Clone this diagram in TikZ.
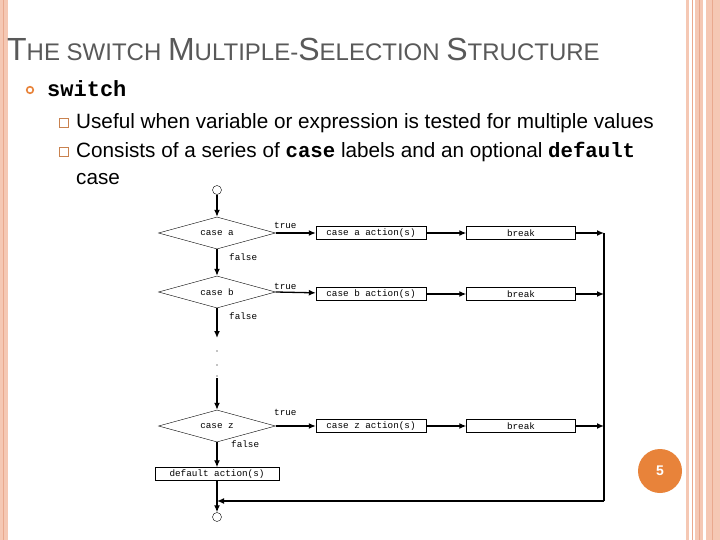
\documentclass[tikz,border=0pt]{standalone}
\usepackage{fontspec}
\setmainfont{Liberation Sans}
\newfontfamily\mono{Liberation Mono}
\usetikzlibrary{shapes.geometric,arrows.meta}
\definecolor{ttl}{HTML}{595959}
\definecolor{orng}{HTML}{E8833A}
\definecolor{pinkA}{HTML}{F5C8B4}
\definecolor{pinkB}{HTML}{E9A98E}
\tikzset{
 fc/.style={font=\mono\fontsize{9.3}{10}\selectfont},
 dec/.style={diamond,draw,thin,fc,aspect=3.7,minimum width=117pt,minimum height=32pt,inner sep=0pt},
 act/.style={draw,thin,fc,minimum width=110pt,minimum height=13pt,inner sep=0pt},
 brk/.style={draw,thin,fc,minimum width=109pt,minimum height=13pt,inner sep=0pt},
 flow/.style={line width=1.3pt,-{Latex[length=7pt,width=6pt]}},
 lbl/.style={fc,inner sep=1pt},
 term/.style={circle,draw,thin,minimum size=9pt,inner sep=0pt},
}
\begin{document}
\begin{tikzpicture}[x=1pt,y=-1pt]
\useasboundingbox (0,0) rectangle (720,540);
\fill[white] (0,0) rectangle (720,540);
% side decorations
\fill[pinkA] (0,0) rectangle (8,540);
\fill[pinkA] (686,0) rectangle (720,540);
\fill[white] (689,0) rectangle (695,540);
\fill[white] (703,0) rectangle (706,540);
\draw[pinkB] (3,0)--(3,540) (692,0)--(692,540) (699,0)--(699,540) (712,0)--(712,540);
% title
\node[anchor=base west,text=ttl,inner sep=0] (title) at (7,61)
 {\fontsize{32}{33}\selectfont T\fontsize{24}{25}\selectfont HE SWITCH \fontsize{32}{33}\selectfont M\fontsize{24}{25}\selectfont ULTIPLE-\fontsize{32}{33}\selectfont S\fontsize{24}{25}\selectfont ELECTION \fontsize{32}{33}\selectfont S\fontsize{24}{25}\selectfont TRUCTURE};
\draw[orng,line width=1.6pt] (30,90) circle (3.3);
\node[anchor=base west,inner sep=0] (sw) at (47,97) {\mono\bfseries\fontsize{22}{24}\selectfont switch};
\draw[orng!70!gray,thin] (59,118) rectangle (68,127);
\node[anchor=base west,inner sep=0] (l1) at (76,129) {\fontsize{20.7}{22}\selectfont Useful when variable or expression is tested for multiple values};
\draw[orng!70!gray,thin] (59,147) rectangle (68,156);
\node[anchor=base west,inner sep=0] (l2) at (76,158) {\fontsize{20.7}{22}\selectfont Consists of a series of {\mono\bfseries case} labels and an optional {\mono\bfseries default}};
\node[anchor=base west,inner sep=0] (l3) at (76,185) {\fontsize{20.7}{22}\selectfont case};
% flowchart
\node[term] (start) at (217,190) {};
\node[dec] (da) at (217,233) {case a};
\node[dec] (db) at (217,292) {case b};
\node[dec] (dz) at (217,426) {case z};
\node[act] (aa) at (371,233) {case a action(s)};
\node[act] (ab) at (371,294) {case b action(s)};
\node[act] (az) at (371,426) {case z action(s)};
\node[brk] (ba) at (521,233) {break};
\node[brk] (bb) at (521,294) {break};
\node[brk] (bz) at (521,426) {break};
\node[draw,thin,fc,minimum width=124pt,minimum height=13pt,inner sep=0pt] (def) at (217,474) {default action(s)};
\node[term] (end) at (217,517) {};
\coordinate (ra) at (604,233);
\coordinate (rb) at (604,294);
\coordinate (rz) at (604,426);
\coordinate (rr) at (604,501);
\coordinate (bot) at (217,501);
\coordinate (dotend) at (217,338);
\coordinate (dotstart) at (217,378);
\draw[flow] (start)--(da);
\draw[flow] (da)--(db);
\draw[flow] (db.south)--(dotend);
\draw[flow] (dotstart)--(dz);
\draw[flow] (dz)--(def);
\draw[flow] (def)--(end);
\draw[flow] (da.east)--(aa);
\draw[flow] (db.east)--(ab);
\draw[flow] (dz.east)--(az);
\draw[flow] (aa)--(ba);
\draw[flow] (ab)--(bb);
\draw[flow] (az)--(bz);
\draw[flow] (ba)--(ra);
\draw[flow] (bb)--(rb);
\draw[flow] (bz)--(rz);
\draw[line width=1.3pt] (ra)--(rr);
\draw[flow] (rr)--(bot);
\foreach \y in {351,365,376}{\fill (217,\y) circle (0.6);}
\node[lbl,anchor=south west] (ta) at (273,230) {true};
\node[lbl,anchor=south west] (tb) at (273,291) {true};
\node[lbl,anchor=south west] (tz) at (273,417) {true};
\node[lbl,anchor=west] (fa) at (228,257) {false};
\node[lbl,anchor=west] (fb) at (228,316) {false};
\node[lbl,anchor=west] (fz) at (230,444) {false};
% page number
\fill[orng] (660,471) circle (22);
\node[text=white,font=\bfseries\fontsize{14}{15}\selectfont] (pg) at (660,471) {5};
\end{tikzpicture}
\end{document}
